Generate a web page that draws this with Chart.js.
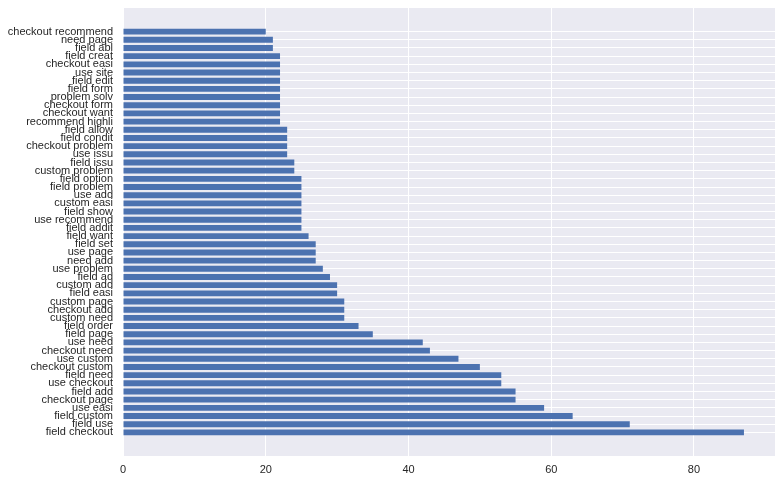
<!DOCTYPE html>
<html>
<head>
<meta charset="utf-8">
<script src="https://cdn.jsdelivr.net/npm/chart.js@4/dist/chart.umd.min.js"></script>
<style>
  html, body { margin: 0; padding: 0; background: #ffffff; }
  #wrap { width: 782px; height: 483px; position: relative; }
</style>
</head>
<body>
<div id="wrap"><canvas id="c"></canvas></div>
<script>
// Categories, bottom (index 0) to top
const categories = [
  "field checkout", "field use", "field custom", "use easi", "checkout page",
  "field add", "use checkout", "field need", "checkout custom", "use custom",
  "checkout need", "use need", "field page", "field order", "custom need",
  "checkout add", "custom page", "field easi", "custom add", "field ad",
  "use problem", "need add", "use page", "field set", "field want",
  "field addit", "use recommend", "field show", "custom easi", "use add",
  "field problem", "field option", "custom problem", "field issu", "use issu",
  "checkout problem", "field condit", "field allow", "recommend highli", "checkout want",
  "checkout form", "problem solv", "field form", "field edit", "use site",
  "checkout easi", "field creat", "field abl", "need page", "checkout recommend"
];
const counts = [
  87, 71, 63, 59, 55,
  55, 53, 53, 50, 47,
  43, 42, 35, 33, 31,
  31, 31, 30, 30, 29,
  28, 27, 27, 27, 26,
  25, 25, 25, 25, 25,
  25, 25, 24, 24, 23,
  23, 23, 23, 22, 22,
  22, 22, 22, 22, 22,
  22, 22, 21, 21, 20
];
const xTicks = [0, 20, 40, 60, 80];

const bgPlugin = {
  id: 'plotBg',
  beforeDraw(chart) {
    const {ctx, chartArea: a} = chart;
    ctx.save();
    ctx.fillStyle = '#EAEAF2';
    ctx.fillRect(a.left, a.top, a.right - a.left, a.bottom - a.top);
    ctx.restore();
  }
};

const n = categories.length;
const yMin = -0.4 - 0.05 * (n - 1 + 0.8);
const yMax = (n - 1) + 0.4 + 0.05 * (n - 1 + 0.8);
const xMax = Math.max(...counts) * 1.05;

new Chart(document.getElementById('c'), {
  type: 'bar',
  data: {
    datasets: [{
      data: counts.map((v, i) => ({x: v, y: i})),
      backgroundColor: '#4C72B0',
      borderWidth: 0,
      barPercentage: 0.72,
      categoryPercentage: 1.0
    }]
  },
  options: {
    indexAxis: 'y',
    responsive: true,
    maintainAspectRatio: false,
    animation: false,
    layout: { padding: { left: 0, right: 7, top: 8, bottom: 0 } },
    plugins: { legend: { display: false }, tooltip: { enabled: false } },
    scales: {
      x: {
        type: 'linear',
        min: 0,
        max: xMax,
        border: { display: false },
        grid: { color: '#ffffff', lineWidth: 1, drawTicks: false },
        afterBuildTicks(scale) { scale.ticks = xTicks.map(v => ({value: v})); },
        afterFit(scale) { scale.height = 27; scale.paddingLeft = 0; scale.paddingRight = 0; },
        ticks: {
          padding: 7,
          color: '#262626',
          font: { family: 'Liberation Sans, Arial, sans-serif', size: 11 },
          callback: v => String(v)
        }
      },
      y: {
        type: 'linear',
        min: yMin,
        max: yMax,
        offset: false,
        border: { display: false },
        grid: { color: '#ffffff', lineWidth: 1, drawTicks: false, offset: false },
        afterBuildTicks(scale) { scale.ticks = categories.map((_, i) => ({value: i})); },
        afterFit(scale) { scale.width = 123; scale.paddingTop = 0; scale.paddingBottom = 0; },
        ticks: {
          padding: 10,
          autoSkip: false,
          color: '#262626',
          font: { family: 'Liberation Sans, Arial, sans-serif', size: 11 },
          callback: v => categories[v]
        }
      }
    }
  },
  plugins: [bgPlugin]
});
</script>
</body>
</html>
